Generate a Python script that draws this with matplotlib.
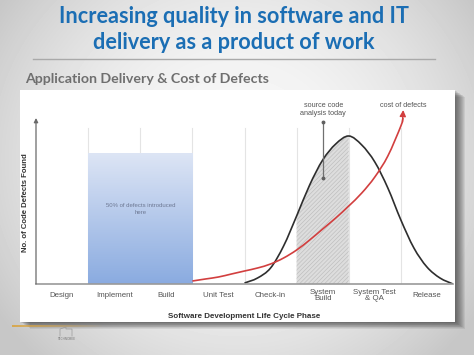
import numpy as np
import matplotlib
matplotlib.use("Agg")
import matplotlib.pyplot as plt
from matplotlib.path import Path
from matplotlib.patches import PathPatch, Rectangle
from matplotlib.colors import LinearSegmentedColormap

# ---------------- data ----------------
title_lines = ["Increasing quality in software and IT", "delivery as a product of work"]
subtitle = "Application Delivery & Cost of Defects"
categories = ["Design", "Implement", "Build", "Unit Test", "Check-in",
              "System\nBuild", "System Test\n& QA", "Release"]
x_label = "Software Development Life Cycle Phase"
y_label = "No. of Code Defects Found"

bar_span = [1, 3]          # Implement .. Build
bar_height = 131
bar_text = "50% of defects introduced\nhere"

bell_x = [4.0, 4.25, 4.5, 4.75, 5.0, 5.25, 5.5, 5.75, 6.0,
          6.25, 6.5, 6.75, 7.0, 7.25, 7.5, 7.75, 8.0]
bell_y = [1, 6, 16, 38, 68, 99, 124, 140, 148,
          139, 122, 96, 64, 36, 17, 6, 0]

cost_x = [3.0, 3.25, 3.5, 3.75, 4.0, 4.25, 4.5, 4.75, 5.0, 5.25,
          5.5, 5.75, 6.0, 6.25, 6.5, 6.75, 7.0, 7.04]
cost_y = [3, 5, 7, 10, 13, 16, 20, 26, 34, 44,
          55, 66, 78, 91, 107, 128, 158, 166]

shade_span = [5.0, 6.0]
annot_source = "source code\nanalysis today"
annot_cost = "cost of defects"

TITLEF = ["Lato", "DejaVu Sans"]
SANS = ["Liberation Sans", "DejaVu Sans"]

W, H = 474, 355
fig = plt.figure(figsize=(W / 100, H / 100), dpi=100)

# ---------------- slide background ----------------
bg = fig.add_axes([0, 0, 1, 1])
bg.set_xlim(0, W)
bg.set_ylim(H, 0)
bg.axis("off")
yy, xx = np.mgrid[0:H, 0:W]
r2 = ((xx - W * 0.5) / (W * 0.55)) ** 2 + ((yy - H * 0.45) / (H * 0.7)) ** 2
val = np.clip(0.975 - 0.16 * r2, 0.78, 1.0)
bg.imshow(val, cmap="gray", vmin=0, vmax=1, extent=[0, W, H, 0], aspect="auto", zorder=0)

# title
for txt, yb in zip(title_lines, [23, 49]):
    bg.text(234, yb, txt, ha="center", va="baseline", fontsize=15.6, fontweight="bold",
            color="#1b6eb4", family=TITLEF, zorder=3)
bg.plot([33, 435], [58.5, 58.5], color="#a9a9a9", lw=1.0, zorder=3)
bg.text(25, 83, subtitle, ha="left", va="baseline", fontsize=10.2, fontweight="bold",
        color="#6f6f6f", family=TITLEF, zorder=3)

# panel shadow + panel
px0, py0, px1, py1 = 20, 90, 455, 322
for i in range(10):
    off = 1.5 * (i + 1)
    bg.add_patch(Rectangle((px0 + off * 0.7, py0 + off * 0.45), px1 - px0, py1 - py0,
                           facecolor="#303030", edgecolor="none", alpha=0.09, zorder=1))
bg.add_patch(Rectangle((px0, py0), px1 - px0, py1 - py0, facecolor="white",
                       edgecolor="none", zorder=2))

# gold line + small logo
for i in range(30):
    xa = 12 + i * 3
    bg.plot([xa, xa + 3], [326, 326], color="#d9a23a", lw=1.2,
            alpha=max(0.0, 1 - i / 30), solid_capstyle="butt", zorder=3)
bg.plot([60, 60, 66, 66, 72, 72], [336, 329, 327, 329, 329, 336], color="#9a9a9a", lw=0.5, zorder=3)
bg.text(66, 339, "TECHNOBEE", ha="center", va="center", fontsize=2.2, color="#777", zorder=3)

# ---------------- chart axes ----------------
x0p, x1p, basep, topp = 36, 453, 284, 94
ax = fig.add_axes([x0p / W, (H - basep) / H, (x1p - x0p) / W, (basep - topp) / H])
ax.set_xlim(0, 8)
ax.set_ylim(0, basep - topp)
ax.axis("off")
ax.patch.set_alpha(0)


def smooth_path(xs, ys):
    pts = np.column_stack([xs, ys]).astype(float)
    verts = [pts[0]]
    codes = [Path.MOVETO]
    n = len(pts)
    for i in range(n - 1):
        p0 = pts[i - 1] if i > 0 else pts[i]
        p1 = pts[i]
        p2 = pts[i + 1]
        p3 = pts[i + 2] if i + 2 < n else pts[i + 1]
        c1 = p1 + (p2 - p0) / 6.0
        c2 = p2 - (p3 - p1) / 6.0
        verts += [c1, c2, p2]
        codes += [Path.CURVE4] * 3
    return verts, codes


# gridlines
for c in range(1, 8):
    ax.plot([c, c], [0, 156], color="#e4e4e4", lw=0.8, zorder=1)

# gradient bar
cmap = LinearSegmentedColormap.from_list("barblue", ["#8aabe0", "#dde5f5"])
grad = np.linspace(0, 1, 256).reshape(-1, 1)
bar = ax.bar([(bar_span[0] + bar_span[1]) / 2], [bar_height], width=bar_span[1] - bar_span[0],
             facecolor="none", edgecolor="none", zorder=2)[0]
im = ax.imshow(grad, cmap=cmap, origin="lower", aspect="auto",
               extent=[bar_span[0], bar_span[1], 0, bar_height], zorder=2)
im.set_clip_path(bar)
ax.set_xlim(0, 8)
ax.set_ylim(0, basep - topp)
ax.text((bar_span[0] + bar_span[1]) / 2, 75, bar_text, ha="center", va="center",
        fontsize=4.3, color="#6d7893", family=SANS, linespacing=1.3, zorder=3)

# shaded hatched region under bell
plt.rcParams["hatch.linewidth"] = 0.45
i0 = bell_x.index(shade_span[0])
i1 = bell_x.index(shade_span[1])
sv, sc = smooth_path(bell_x, bell_y)
seg_v = sv[1 + 3 * i0: 1 + 3 * i1]
seg_c = [Path.CURVE4] * len(seg_v)
verts = [(shade_span[0], 0), (bell_x[i0], bell_y[i0])] + seg_v + [(shade_span[1], 0), (shade_span[0], 0)]
codes = [Path.MOVETO, Path.LINETO] + seg_c + [Path.LINETO, Path.CLOSEPOLY]
ax.add_patch(PathPatch(Path(verts, codes), facecolor="#dddddd", edgecolor="#bdbdbd", lw=0,
                       hatch="////////", zorder=2))

# bell curve
ax.add_patch(PathPatch(Path(sv, sc), facecolor="none", edgecolor="#2e2e2e", lw=1.2, zorder=4))

# cost curve
cv, cc = smooth_path(cost_x, cost_y)
ax.add_patch(PathPatch(Path(cv, cc), facecolor="none", edgecolor="#d23f3f", lw=1.2, zorder=5))
ax.annotate("", xy=(cost_x[-1] + 0.005, cost_y[-1] + 8), xytext=(cost_x[-1] - 0.01, cost_y[-1] - 4),
            arrowprops=dict(arrowstyle="-|>", color="#d23f3f", lw=1.0, mutation_scale=9,
                            shrinkA=0, shrinkB=0), zorder=5)

# axes lines
ax.plot([0, 8], [0, 0], color="#9a9a9a", lw=1.2, zorder=6, clip_on=False)
ax.annotate("", xy=(0, 166), xytext=(0, 0),
            arrowprops=dict(arrowstyle="-|>", color="#6a6a6a", lw=0.9, mutation_scale=6,
                            shrinkA=0, shrinkB=0), zorder=6)

# source code leader
ax.plot([5.51, 5.51], [106, 162], color="#707070", lw=0.9, zorder=6)
ax.plot([5.51, 5.51], [106, 162], "o", color="#606060", ms=1.8, zorder=6)
ax.text(5.51, 174.5, annot_source, ha="center", va="center", fontsize=5.2, color="#555555",
        family=SANS, linespacing=1.1, zorder=6)
ax.text(7.04, 179, annot_cost, ha="center", va="center", fontsize=5.2, color="#555555",
        family=SANS, zorder=6)

# category labels
for i, lab in enumerate(categories):
    ax.text(i + 0.5, -11.5, lab, ha="center", va="center", fontsize=5.7, color="#555555",
            family=SANS, linespacing=0.95, clip_on=False)

ax.text(4.0, -32, x_label, ha="center", va="center", fontsize=5.8, fontweight="bold",
        color="#333333", family=SANS, clip_on=False)
ax.text(-0.21, 81, y_label, ha="center", va="center", rotation=90, fontsize=5.6,
        fontweight="bold", color="#333333", family=SANS, clip_on=False)

fig.savefig("out.png", dpi=100)
